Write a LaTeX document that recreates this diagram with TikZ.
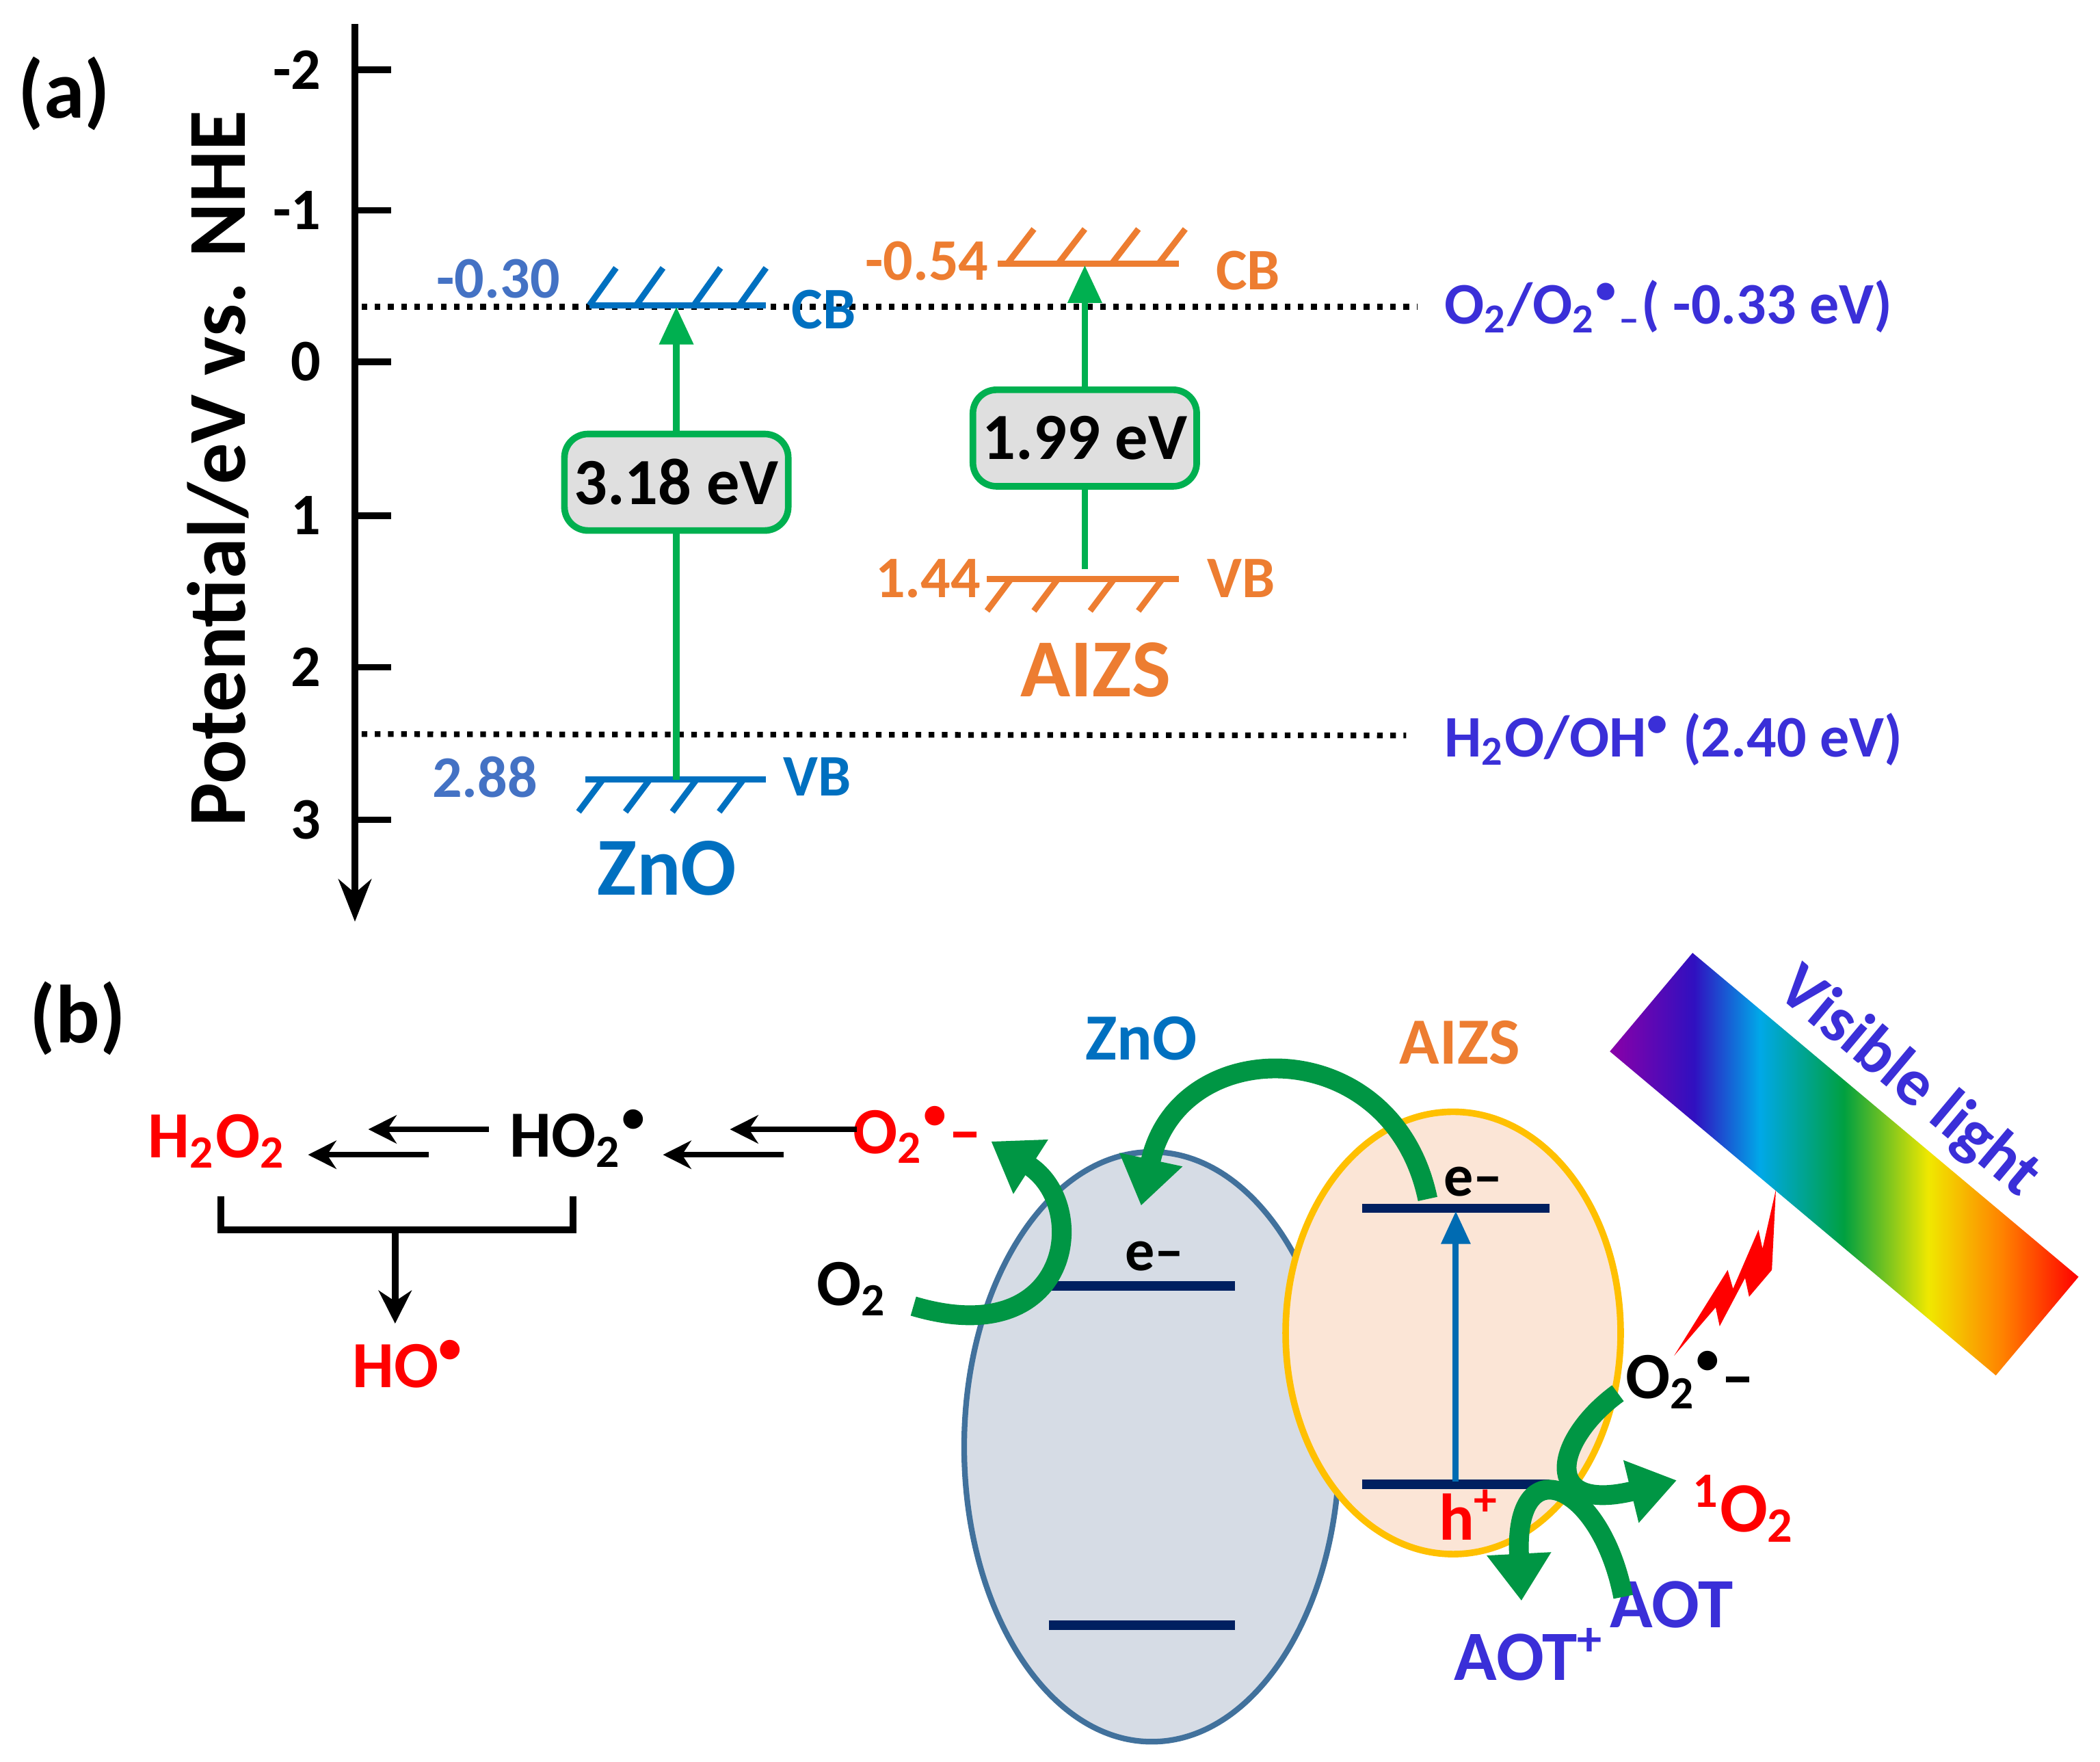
\documentclass[tikz,border=0pt]{standalone}
\usepackage{fontspec}
\setmainfont{Carlito}
\usetikzlibrary{arrows.meta,shapes.geometric}
\definecolor{zblue}{HTML}{0070C0}
\definecolor{lblue}{HTML}{4472C4}
\definecolor{aorange}{HTML}{ED7D31}
\definecolor{pblue}{HTML}{3A2FD8}
\definecolor{gr}{HTML}{00B050}
\definecolor{navy}{HTML}{002060}
\definecolor{myred}{HTML}{FF0000}
\definecolor{zfill}{HTML}{D6DCE5}
\definecolor{afill}{HTML}{FBE5D6}
\definecolor{zedge}{HTML}{41719C}
\definecolor{aedge}{HTML}{FFC000}
\definecolor{sv}{HTML}{8A00A8}
\definecolor{sb}{HTML}{3010C0}
\definecolor{sc}{HTML}{00A8E8}
\definecolor{sg}{HTML}{00A040}
\definecolor{sy}{HTML}{F0E800}
\definecolor{so}{HTML}{FF8000}
\pgfdeclarehorizontalshading{spec}{100bp}{color(0bp)=(sv);color(25bp)=(sv);color(34bp)=(sb);color(41bp)=(sc);color(50bp)=(sg);color(59bp)=(sy);color(67bp)=(so);color(75bp)=(red);color(100bp)=(red)}
\tikzset{
 txt/.style={font=\bfseries\fontsize{12.5pt}{14pt}\selectfont},
 mid/.style={font=\bfseries\fontsize{14pt}{16pt}\selectfont},
 big/.style={font=\bfseries\fontsize{17.5pt}{20pt}\selectfont},
 lvl/.style={line width=1.3pt},
 gbox/.style={draw=gr,line width=1.4pt,fill=gray!25,rounded corners=5pt,minimum width=1.55cm,minimum height=0.72cm,inner xsep=2pt,font=\bfseries\fontsize{14pt}{16pt}\selectfont},
 dots/.style={line width=1.2pt,dash pattern=on 1.2pt off 1.6pt},
 garrow/.style={draw=gr!85!black,line width=4.2pt,-{Triangle[length=10pt,width=13pt]}},
 eq/.style={line width=1.1pt,-{Stealth[length=6pt,width=6pt]}}
}
\begin{document}
\begin{tikzpicture}[x=0.01cm,y=-0.01cm]
\useasboundingbox (0,0) rectangle (1568,1314.8);
% (a)
\node[big] (la) at (48,70) {(a)};
\draw[line width=1.4pt,-{Stealth[length=9pt,width=7pt]}] (265,18) coordinate (ax0) -- (265,688) coordinate (ax1);
\foreach \v/\y in {-2/52,-1/157,0/270,1/385,2/498,3/612}{
  \draw[line width=1.4pt] (265,\y) -- (292,\y);
  \node[txt,anchor=east] at (252,\y) {\v};}
\node[big,rotate=90] (yl) at (163,350) {Potential/eV vs. NHE};
\coordinate (d1a) at (270,229); \coordinate (d1b) at (1058,229);
\draw[dots] (d1a) -- (d1b);
\node[txt,text=pblue,anchor=west] (o2l) at (1066,229) {O\textsubscript{2}/O\textsubscript{2}\textsuperscript{•}\textsubscript{–}( -0.33 eV)};
\coordinate (d2a) at (270,548); \coordinate (d2b) at (1050,549);
\draw[dots] (d2a) -- (d2b);
\node[txt,text=pblue,anchor=west] (h2ol) at (1066,552) {H\textsubscript{2}O/OH\textsuperscript{•} (2.40 eV)};
% ZnO levels
\draw[lvl,zblue] (440,228) coordinate (zcb0) -- (572,228) coordinate (zcb1);
\foreach \x in {440,475,518,552}{\draw[lvl,zblue] (\x,228) -- ++(20,-28);}
\node[txt,text=lblue] (zcbv) at (372,208) {-0.30};
\node[txt,text=zblue] (zcbt) at (615,231) {CB};
\draw[lvl,zblue] (437,582) coordinate (zvb0) -- (572,582) coordinate (zvb1);
\foreach \x in {450,485,520,555}{\draw[lvl,zblue] (\x,582) -- ++(-18,24);}
\node[txt,text=lblue] (zvbv) at (362,580) {2.88};
\node[txt,text=zblue] (zvbt) at (610,580) {VB};
\node[big,text=zblue] (zname) at (498,648) {ZnO};
\node[gbox] (b1) at (505,360) {3.18 eV};
\draw[line width=1.4pt,draw=gr] (505,582) -- (b1.south);
\draw[line width=1.4pt,draw=gr,-{Triangle[length=8pt,width=7pt]}] (b1.north) -- (505,229);
% AIZS levels
\draw[lvl,aorange] (745,197) coordinate (acb0) -- (880,197) coordinate (acb1);
\foreach \x in {752,790,830,865}{\draw[lvl,aorange] (\x,197) -- ++(20,-26);}
\node[txt,text=aorange] (acbv) at (692,195) {-0.54};
\node[txt,text=aorange] (acbt) at (932,202) {CB};
\draw[lvl,aorange] (737,432) coordinate (avb0) -- (880,432) coordinate (avb1);
\foreach \x in {755,790,832,868}{\draw[lvl,aorange] (\x,432) -- ++(-18,24);}
\node[txt,text=aorange] (avbv) at (693,432) {1.44};
\node[txt,text=aorange] (avbt) at (927,432) {VB};
\node[big,text=aorange] (aname) at (818,500) {AIZS};
\node[gbox] (b2) at (810,327) {1.99 eV};
\draw[line width=1.4pt,draw=gr] (810,425) -- (b2.south);
\draw[line width=1.4pt,draw=gr,-{Triangle[length=8pt,width=7pt]}] (b2.north) -- (810,198);
% (b)
\node[big] (lb) at (58,760) {(b)};
\node[mid,text=myred] (h2o2) at (162,852) {H\textsubscript{2}O\textsubscript{2}};
\node[mid] (ho2) at (432,850) {HO\textsubscript{2}\textsuperscript{•}};
\node[mid,text=myred] (o2m) at (685,847) {O\textsubscript{2}\textsuperscript{•}–};
\draw[eq] (365,843) -- (275,843); \draw[eq] (320,862) -- (230,862);
\draw[eq] (640,843) -- (545,843); \draw[eq] (585,862) -- (495,862);
\draw[line width=1.4pt] (165,893) -- (165,918) -- (428,918) -- (428,893);
\coordinate (brm) at (295,918);
\node[mid,text=myred] (ho) at (305,1018) {HO\textsuperscript{•}};
\draw[line width=1.4pt,-{Stealth[length=7pt,width=7pt]}] (brm) -- (295,988);
% ellipses
\node[draw=zedge,line width=1.2pt,fill=zfill,ellipse,minimum width=2.8cm,minimum height=4.4cm,inner sep=0] (ezno) at (860,1080) {};
\node[draw=aedge,line width=1.4pt,fill=afill,ellipse,minimum width=2.5cm,minimum height=3.3cm,inner sep=0] (eaizs) at (1085,995) {};
\node[mid,text=zblue] (zn2) at (852,775) {ZnO};
\node[mid,text=aorange] (az2) at (1090,778) {AIZS};
\draw[line width=2pt,navy] (783,960) -- (922,960);
\draw[line width=2pt,navy] (783,1213) -- (922,1213);
\node[txt] (ez) at (862,938) {e–};
\draw[line width=2pt,navy] (1017,902) -- (1157,902);
\draw[line width=2pt,navy] (1017,1108) -- (1157,1108);
\node[txt] (ea) at (1100,882) {e–};
\node[mid,text=myred] (hp) at (1097,1131) {h\textsuperscript{+}};
\draw[line width=1.3pt,draw=blue!40!cyan!70!black,-{Triangle[length=7pt,width=6pt]}] (1087,1106) -- (1087,904);
% spectrum
\node[shading=spec,rotate=-40,minimum width=3.76cm,minimum height=0.96cm,inner sep=0] (spec) at (1377,869) {};
\node[mid,text=pblue,rotate=-40] (vis) at (1425,808) {Visible light};
\fill[myred] (1250,1012) -- (1290,948) -- (1294,962) -- (1313,918) -- (1316,932) -- (1326,888) -- (1323,948) -- (1306,968) -- (1303,954) -- (1284,990) -- (1281,976) -- cycle;
\node[mid] (o2b) at (1262,1030) {O\textsubscript{2}\textsuperscript{•}–};
\node[mid,text=myred,font=\bfseries\fontsize{15pt}{17pt}\selectfont] (so2) at (1302,1126) {\textsuperscript{1}O\textsubscript{2}};
\node[mid,text=pblue,font=\bfseries\fontsize{15pt}{17pt}\selectfont] (aot) at (1248,1198) {AOT};
\node[mid,text=pblue,font=\bfseries\fontsize{15pt}{17pt}\selectfont] (aotp) at (1142,1235) {AOT\textsuperscript{+}};
\node[mid] (o2a) at (636,962) {O\textsubscript{2}};
% green curved arrows
\draw[garrow] (1066,895) .. controls (1040,770) and (880,770) .. (852,900);
\draw[garrow] (682,975) .. controls (800,1010) and (815,900) .. (740,852);
\draw[garrow] (1208,1040) .. controls (1160,1075) and (1150,1130) .. (1252,1105);
\draw[garrow] (1212,1192) .. controls (1195,1105) and (1130,1080) .. (1136,1195);
\end{tikzpicture}
\end{document}
